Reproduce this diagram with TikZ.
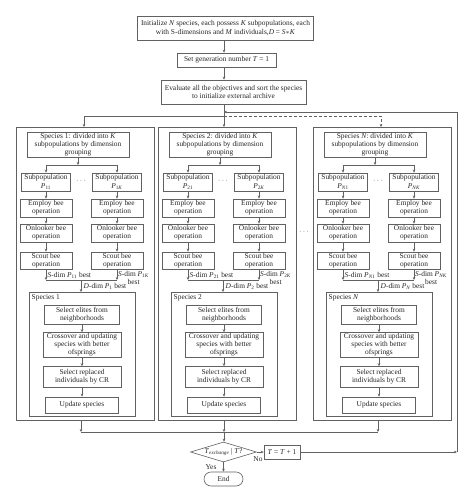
\documentclass[tikz,border=0pt]{standalone}
\usepackage{fontspec}
\setmainfont{Liberation Serif}
\usetikzlibrary{shapes.geometric,arrows.meta,calc}
\colorlet{lc}{black!62}
\colorlet{tc}{black!85}
\newcommand\iv[1]{\textit{#1}}
\newcommand\sub[1]{\textsubscript{#1}}
\tikzset{
 base/.style={font=\fontsize{7.4}{8.2}\selectfont, text=tc},
 box/.style={base, draw=lc, line width=0.6pt, fill=white, align=center, inner sep=0.5pt},
 frame/.style={draw=lc, line width=0.6pt, inner sep=0pt},
 arr/.style={draw=lc, line width=0.6pt, -{Stealth[length=3pt,width=2.6pt]}},
 ln/.style={draw=lc, line width=0.6pt},
 lbl/.style={base, inner sep=0.5pt, align=center},
}
\newcommand\speciescol[4]{%
 \begin{scope}[shift={(#1,0)}]
 \node[frame, minimum width=138, minimum height=293, anchor=north west] (#2out) at (0,127) {};
 \node[box, minimum width=102, minimum height=25] (#2title) at (62,144.5) {Species #3: divided into \iv{K}\\subpopulations by dimension\\grouping};
 \coordinate (#2split) at (62,165);
 \node[box, minimum width=49, minimum height=18] (#2subL) at (30,182) {Subpopulation\\\iv{P}\sub{#41}};
 \node[box, minimum width=49, minimum height=18] (#2subR) at (101,182) {Subpopulation\\\iv{P}\sub{#4\iv{K}}};
 \node[lbl] (#2dots) at (65,181) {$\cdots$};
 \node[box, minimum width=52, minimum height=18] (#2empL) at (30,208) {Employ bee\\operation};
 \node[box, minimum width=52, minimum height=18] (#2empR) at (101,208) {Employ bee\\operation};
 \node[box, minimum width=52, minimum height=18] (#2onlL) at (30,233) {Onlooker bee\\operation};
 \node[box, minimum width=52, minimum height=18] (#2onlR) at (101,233) {Onlooker bee\\operation};
 \node[box, minimum width=52, minimum height=17] (#2scoL) at (30,260.5) {Scout bee\\operation};
 \node[box, minimum width=52, minimum height=17] (#2scoR) at (101,260.5) {Scout bee\\operation};
 \coordinate (#2bus) at (65,280);
 \node[lbl, anchor=west] (#2sdL) at (31,275) {\iv{S}-dim \iv{P}\sub{#41} best};
 \node[lbl, anchor=north west] (#2sdR) at (101.5,270.5) {\iv{S}-dim \iv{P}\sub{#4\iv{K}}\\best};
 \node[lbl, anchor=west] (#2dd) at (67,286.5) {\iv{D}-dim \iv{P}\sub{#4} best};
 \node[frame, minimum width=106, minimum height=124, anchor=north west] (#2in) at (13,292) {};
 \node[lbl, anchor=north west] (#2inlbl) at (15,293.5) {Species #3};
 \node[box, minimum width=75, minimum height=19] (#2eli) at (66,315) {Select elites from\\neighborhoods};
 \node[box, minimum width=78, minimum height=25] (#2cro) at (66,345) {Crossover and updating\\species with better\\ofsprings};
 \node[box, minimum width=78, minimum height=21] (#2rep) at (66,377) {Select replaced\\individuals by CR};
 \node[box, minimum width=73, minimum height=16] (#2upd) at (66,405) {Update species};
 \coordinate (#2o) at (65,432);
 \draw[arr] (#2title.south) -- (#2split);
 \draw[arr] (#2split) -| (#2subL.north);
 \draw[arr] (#2split) -| (#2subR.north);
 \draw[arr] (#2subL) -- (#2empL);
 \draw[arr] (#2empL) -- (#2onlL);
 \draw[arr] (#2onlL) -- (#2scoL);
 \draw[arr] (#2subR) -- (#2empR);
 \draw[arr] (#2empR) -- (#2onlR);
 \draw[arr] (#2onlR) -- (#2scoR);
 \draw[arr] (#2scoL.south) -- (#2scoL.south |- #2bus);
 \draw[arr] (#2scoR.south) -- (#2scoR.south |- #2bus);
 \draw[ln] (#2scoL.south |- #2bus) -- (#2scoR.south |- #2bus);
 \draw[arr] (#2bus) -- (#2in.north -| #2bus);
 \draw[arr] (#2eli) -- (#2cro);
 \draw[arr] (#2cro) -- (#2rep);
 \draw[arr] (#2rep) -- (#2upd);
 \end{scope}}
\begin{document}
\begin{tikzpicture}[x=1pt,y=-1pt]
\fill[white] (0,0) rectangle (474,502);
\useasboundingbox (0,0) rectangle (474,502);
\coordinate (trunk) at (224,0);
\node[box, minimum width=176, minimum height=24] (init) at (225.5,28) {Initialize \iv{N} species, each possess \iv{K} subpopulations, each\\with S-dimensions and \iv{M} individuals,\iv{D} = \iv{S}$\ast$\iv{K}};
\node[box, minimum width=99, minimum height=14] (set) at (226.5,60) {Set generation number \iv{T} = 1};
\node[box, minimum width=145, minimum height=24] (eval) at (233.5,92) {Evaluate all the objectives and sort the species\\to initialize external archive};
\speciescol{16}{s1}{1}{1}
\speciescol{158}{s2}{2}{2}
\speciescol{313}{sN}{\iv{N}}{\iv{N}}
\node[lbl] (gapdots) at (304,232) {$\cdots$};
\draw[arr] (init.south -| trunk) -- (set.north -| trunk);
\draw[arr] (set.south -| trunk) -- (eval.north -| trunk);
\draw[arr] (eval.south -| trunk) -- (s2out.north -| trunk);
\coordinate (busT) at (224,116);
\coordinate (s1top) at (84,0);
\coordinate (sNtop) at (381,0);
\draw[arr] (busT) -| (s1out.north -| s1top);
\draw[arr, dash pattern=on 3pt off 2pt] (busT) -| (sNout.north -| sNtop);
% bottom
\node[diamond, draw=lc, line width=0.6pt, minimum width=66, minimum height=20, inner sep=0pt, aspect=3.3] (dec) at (223.5,452) {};
\node[lbl] (dect) at (dec.center) {\iv{T}\sub{\iv{exchange}} | \iv{T}?};
\node[box, minimum width=36, minimum height=14] (tt) at (282,452) {\iv{T} = \iv{T} + 1};
\node[box, rounded corners=7pt, minimum width=39, minimum height=14] (end) at (223.5,479) {End};
\node[lbl] (nolbl) at (258,459.5) {No};
\node[lbl] (yeslbl) at (211,467) {Yes};
\coordinate (s2o) at (224,432);
\draw[arr] (s1out.south -| s1o) -- (s1o);
\draw[arr] (sNout.south -| sNo) -- (sNo);
\draw[ln] (s1o) -- (sNo);
\draw[arr] (s2out.south -| s2o) -- (s2o);
\draw[arr] (s2o) -- (dec.north -| s2o);
\draw[arr] (dec.east) -- (tt.west);
\draw[arr] (dec.south) -- (end.north);
\coordinate (fbB) at (457,452);
\coordinate (fbT) at (457,112);
\draw[arr] (tt.east) -- (fbB);
\draw[arr] (fbB) -- (fbT) -- (trunk |- fbT);
\end{tikzpicture}
\end{document}
